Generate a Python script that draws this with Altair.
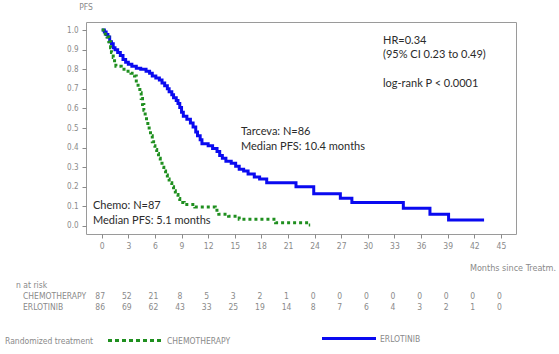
import altair as alt
import pandas as pd

# ---- data ----
erl_t = [0, 0.3, 0.5, 0.7, 0.9, 1.1, 1.3, 1.5, 1.8, 2.1, 2.4, 2.7, 3.0, 3.4, 3.9, 4.4, 5.0,
         5.4, 5.7, 6.1, 6.5, 6.8, 7.1, 7.4, 7.6, 7.9, 8.1, 8.4, 8.6, 8.8, 9.0, 9.2, 9.6,
         10.0, 10.3, 10.6, 10.8, 11.1, 11.3, 12.0, 12.5, 13.0, 13.3, 13.6, 14.0, 14.6,
         15.1, 15.5, 16.0, 16.5, 17.2, 17.8, 18.6, 21.9, 23.9, 26.9, 28.2, 34.0, 37.0,
         39.1, 43.1]
erl_s = [1.0, 0.99, 0.977, 0.965, 0.94, 0.93, 0.91, 0.90, 0.885, 0.87, 0.85, 0.835, 0.825,
         0.815, 0.805, 0.80, 0.79, 0.78, 0.765, 0.755, 0.745, 0.73, 0.715, 0.70, 0.685,
         0.67, 0.655, 0.64, 0.625, 0.605, 0.58, 0.56, 0.545, 0.525, 0.505, 0.48, 0.46,
         0.44, 0.42, 0.41, 0.395, 0.38, 0.36, 0.345, 0.33, 0.32, 0.305, 0.29, 0.28, 0.265,
         0.25, 0.24, 0.22, 0.20, 0.165, 0.142, 0.12, 0.091, 0.06, 0.03, 0.03]

chemo_t = [0, 0.4, 0.6, 0.8, 1.0, 1.1, 1.3, 1.45, 1.6, 2.2, 2.8, 3.3, 3.7, 3.9, 4.1, 4.3,
           4.45, 4.6, 4.75, 4.9, 5.05, 5.2, 5.35, 5.5, 5.7, 5.85, 6.0, 6.2, 6.4, 6.6, 6.8,
           7.0, 7.2, 7.4, 7.6, 7.9, 8.1, 8.3, 8.6, 8.8, 9.3, 10.5, 12.8, 13.2, 14.3, 15.5,
           19.6, 23.3, 23.5]
chemo_s = [1.0, 0.98, 0.965, 0.94, 0.91, 0.885, 0.86, 0.835, 0.815, 0.80, 0.79, 0.78,
           0.765, 0.74, 0.71, 0.68, 0.65, 0.62, 0.59, 0.56, 0.535, 0.51, 0.485, 0.46,
           0.43, 0.41, 0.39, 0.37, 0.345, 0.32, 0.30, 0.28, 0.26, 0.24, 0.22, 0.20, 0.18,
           0.16, 0.14, 0.12, 0.11, 0.097, 0.08, 0.06, 0.05, 0.034, 0.017, 0.005, 0.005]

risk_months = [0, 3, 6, 9, 12, 15, 18, 21, 24, 27, 30, 33, 36, 39, 42, 45]
risk_chemo = [87, 52, 21, 8, 5, 3, 2, 1, 0, 0, 0, 0, 0, 0, 0, 0]
risk_erl = [86, 69, 62, 43, 33, 25, 19, 14, 8, 7, 6, 4, 3, 2, 1, 0]

x_ticks = list(range(0, 46, 3))
y_ticks = [i / 10 for i in range(0, 11)]

BLUE = "#0a0af0"
GREEN = "#1f8f1f"
GRAY = "#8a8a8a"
ANN = "#2b2b2b"
NARROW = "Liberation Sans Narrow, DejaVu Sans Condensed, Arial Narrow, sans-serif"
ANN_FONT = "Lato, Open Sans, sans-serif"

W, H = 430, 212
xs = alt.Scale(domain=[-1.77, 46.7], nice=False, zero=False)
ys = alt.Scale(domain=[-0.041, 1.041], nice=False, zero=False)

erl_df = pd.DataFrame({"t": erl_t, "s": erl_s})
chemo_df = pd.DataFrame({"t": chemo_t, "s": chemo_s})

xaxis = alt.Axis(values=x_ticks, grid=False, domain=False, tickColor=GRAY, tickSize=4,
                 labelColor=GRAY, labelFont=NARROW, labelFontSize=8.5, labelPadding=3,
                 title=None)
yaxis = alt.Axis(values=y_ticks, format=".1f", grid=False, domain=False, tickColor=GRAY,
                 tickSize=4, labelColor=GRAY, labelFont=NARROW, labelFontSize=8,
                 labelPadding=4, title=None)

X = alt.X("t:Q", scale=xs, axis=xaxis)
Y = alt.Y("s:Q", scale=ys, axis=yaxis)

erl_line = alt.Chart(erl_df).mark_line(interpolate="step-after", color=BLUE, strokeWidth=3).encode(
    x=X, y=Y)
chemo_line = alt.Chart(chemo_df).mark_line(interpolate="step-after", color=GREEN, strokeWidth=3,
                                           strokeDash=[3, 3]).encode(x=X, y=Y)

one = pd.DataFrame({"a": [0]})


def txt(text, x, y, size=8.5, color=GRAY, font=NARROW, align="left"):
    return alt.Chart(one).mark_text(align=align, baseline="middle", fontSize=size, color=color,
                                    font=font).encode(
        x=alt.value(x), y=alt.value(y), text=alt.value(text))


annotations = [
    txt("PFS", 0, -15, size=8.5, align="center"),
    txt("HR=0.34", 297, 19, size=11, color=ANN, font=ANN_FONT),
    txt("(95% CI 0.23 to 0.49)", 297, 33, size=11, color=ANN, font=ANN_FONT),
    txt("log-rank P < 0.0001", 297, 62, size=11, color=ANN, font=ANN_FONT),
    txt("Tarceva: N=86", 155, 110, size=11, color=ANN, font=ANN_FONT),
    txt("Median PFS: 10.4 months", 155, 125, size=11, color=ANN, font=ANN_FONT),
    txt("Chemo: N=87", 7, 184, size=11, color=ANN, font=ANN_FONT),
    txt("Median PFS: 5.1 months", 7, 199, size=11, color=ANN, font=ANN_FONT),
    txt("Months since Treatm.", 470, 246, size=9, align="right"),
    txt("n at risk", -70, 263, size=8.5),
    txt("CHEMOTHERAPY", -63, 274, size=8.5),
    txt("ERLOTINIB", -63, 284.5, size=8.5),
    txt("Randomized treatment", -81, 318.5, size=8.5),
    txt("CHEMOTHERAPY", 81, 318.5, size=8.5),
    txt("ERLOTINIB", 294, 316.5, size=8.5),
]

risk_df = pd.DataFrame({"t": risk_months, "c": risk_chemo, "e": risk_erl})
risk_c = alt.Chart(risk_df).mark_text(align="center", baseline="middle", fontSize=8.5, color=GRAY,
                                      font=NARROW, dx=-1.5).encode(
    x=X, y=alt.value(274), text="c:Q")
risk_e = alt.Chart(risk_df).mark_text(align="center", baseline="middle", fontSize=8.5, color=GRAY,
                                      font=NARROW, dx=-1.5).encode(
    x=X, y=alt.value(284.5), text="e:Q")

leg_green = alt.Chart(one).mark_rule(color=GREEN, strokeWidth=3, strokeDash=[4, 3]).encode(
    x=alt.value(22), x2=alt.value(77), y=alt.value(318.5))
leg_blue = alt.Chart(one).mark_rule(color=BLUE, strokeWidth=3).encode(
    x=alt.value(236), x2=alt.value(290), y=alt.value(316.5))

chart = alt.layer(erl_line, chemo_line, risk_c, risk_e, leg_green, leg_blue, *annotations).properties(
    width=W, height=H,
    autosize=alt.AutoSizeParams(type="none"),
    padding={"left": 86, "top": 22, "right": 43, "bottom": 120},
    background="white",
).configure_view(stroke="#9a9a9a", strokeWidth=1)

chart.save("out.html", embed_options={"renderer": "svg", "actions": False})
